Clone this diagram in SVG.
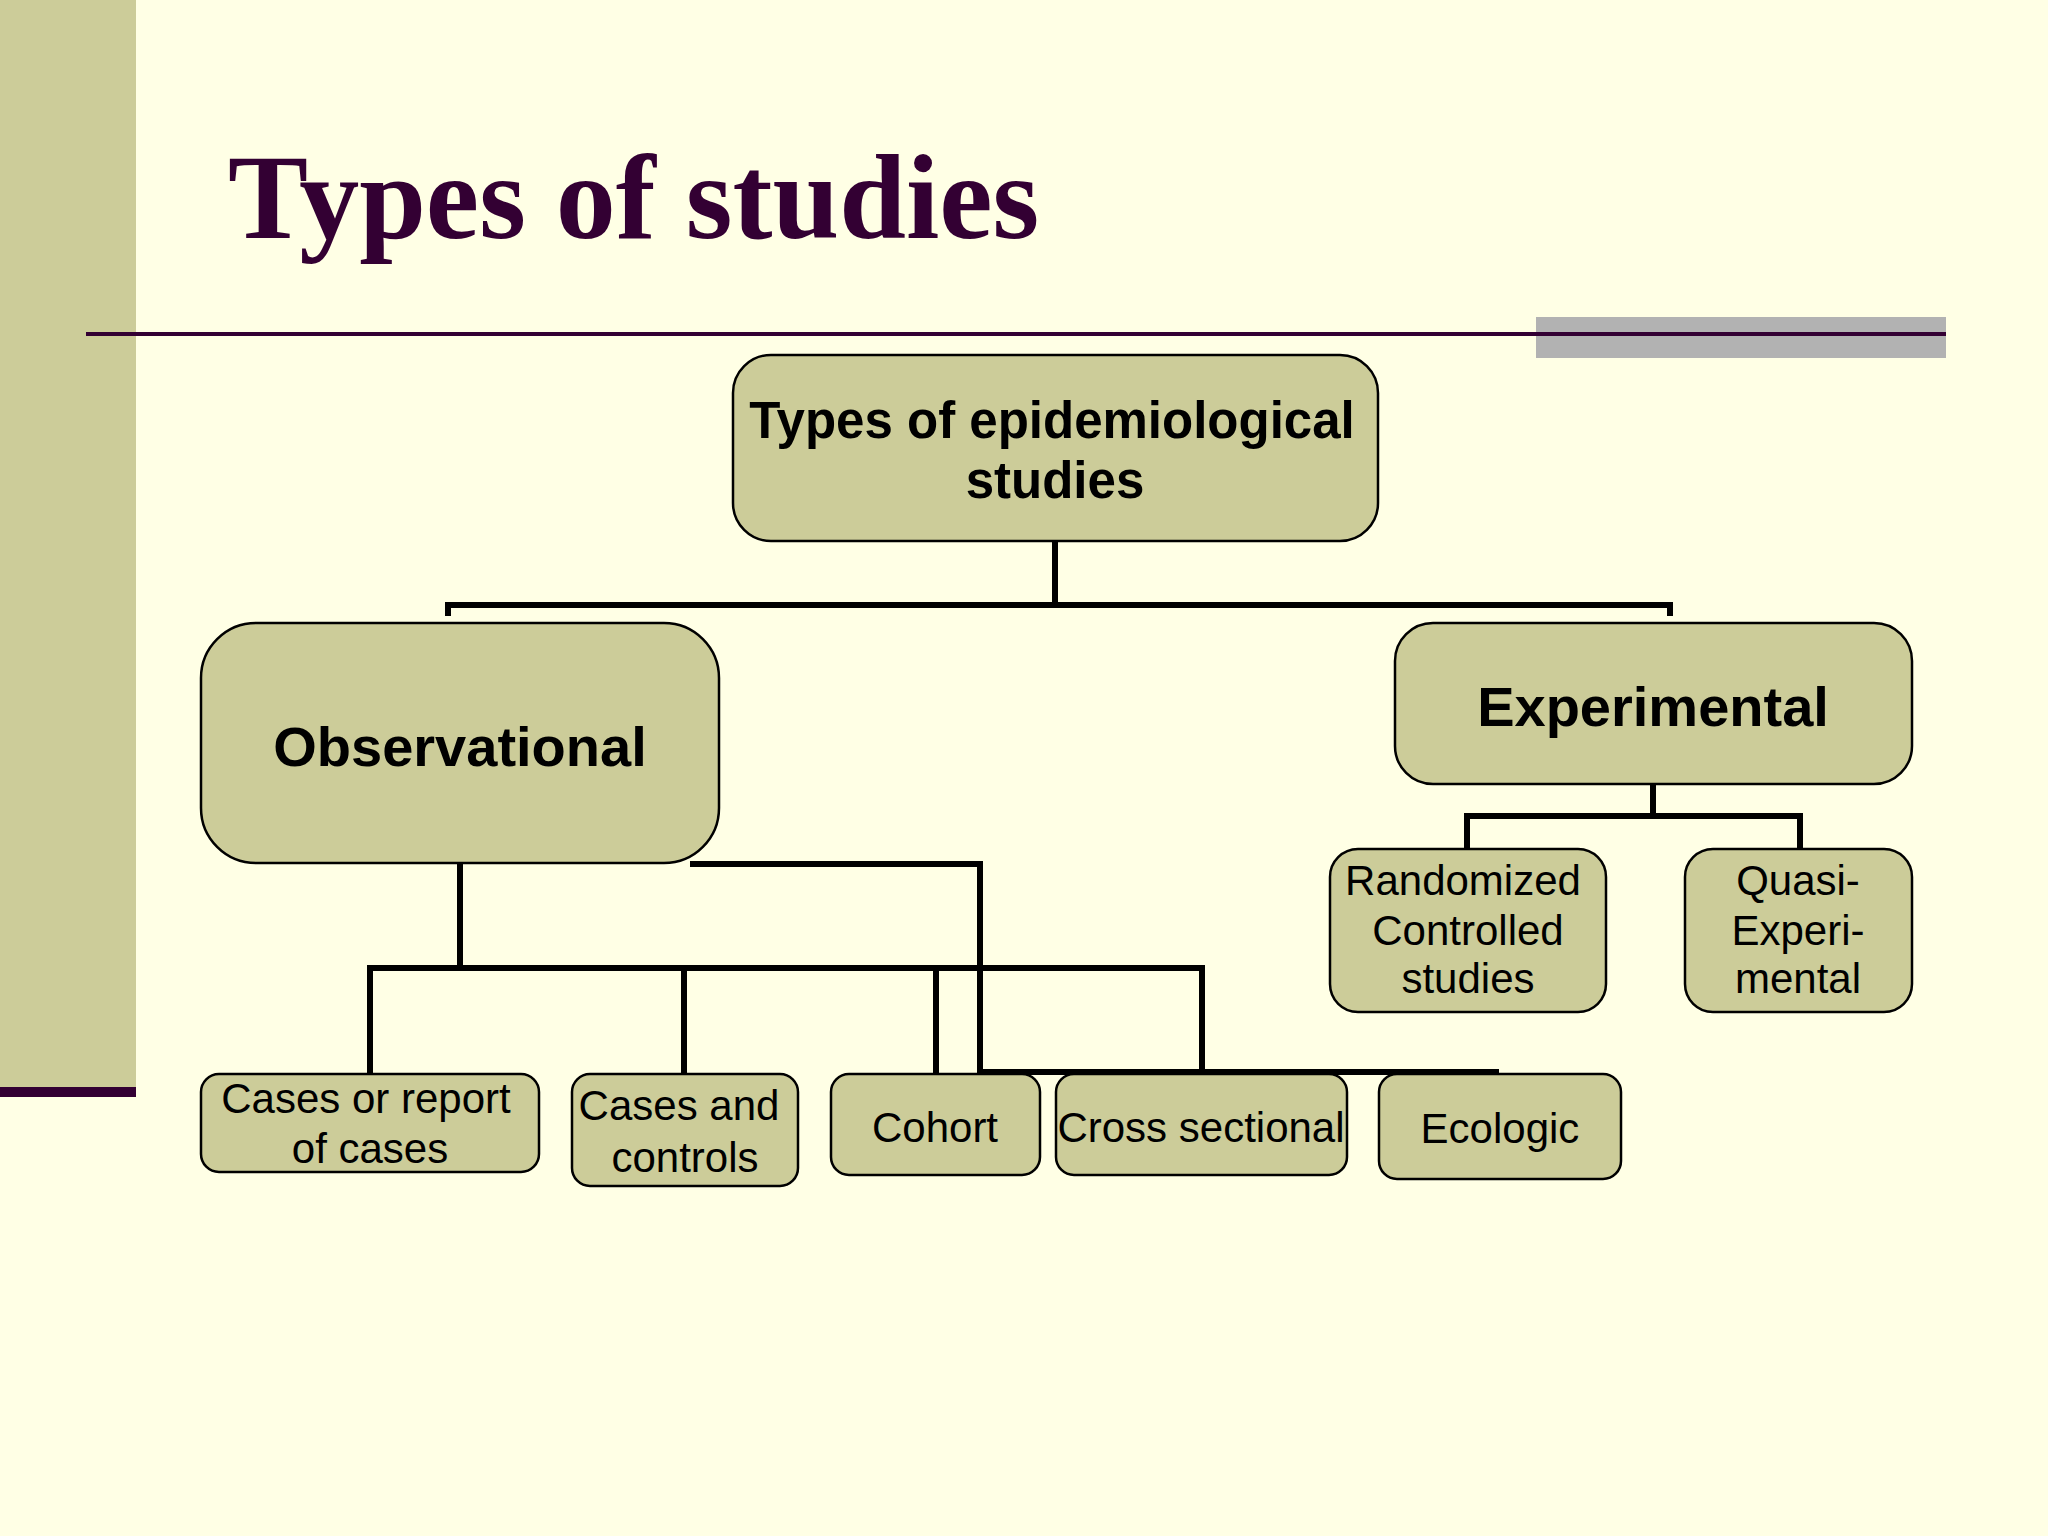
<svg xmlns="http://www.w3.org/2000/svg" width="2048" height="1536" viewBox="0 0 2048 1536">
<style>
.node rect{fill:#CCCC99;stroke:#000;stroke-width:2.5}
.bold{font-family:"Liberation Sans",Arial,sans-serif;font-weight:bold;fill:#000;text-anchor:middle}
.reg{font-family:"Liberation Sans",Arial,sans-serif;font-size:42px;fill:#000;text-anchor:middle}
.conn{fill:none;stroke:#000;stroke-width:6;stroke-linejoin:miter;stroke-linecap:butt}
</style>
<rect x="0" y="0" width="2048" height="1536" fill="#FFFFE5"/>
<rect x="0" y="0" width="136" height="1087" fill="#CCCC99"/>
<rect x="0" y="1087" width="136" height="10" fill="#330033"/>
<rect x="1536" y="317" width="410" height="41" fill="#B2B2B2"/>
<rect x="86" y="332" width="1860" height="4" fill="#330033"/>
<text x="228" y="238" font-family="'Liberation Serif','Times New Roman',serif" font-weight="bold" font-size="120" fill="#330033">Types of studies</text>

<g id="connectors" class="conn">
<path d="M1055,541 V605 M448,616 V605 H1670 V616"/>
<path d="M1653,784 V816 M1467,849 V816 H1800 V849"/>
<path d="M460,863 V968 M370,1074 V968 H1202 V1074 M684,968 V1074 M936,968 V1074"/>
<path d="M690,864 H980 V1072 H1499"/>
</g>

<g id="node-root" class="node">
<rect x="733" y="355" width="645" height="186" rx="38"/>
<text class="bold" font-size="51" x="1052" y="438">Types of epidemiological</text>
<text class="bold" font-size="51" x="1055" y="498">studies</text>
</g>
<g id="node-observational" class="node">
<rect x="201" y="623" width="518" height="240" rx="55"/>
<text class="bold" font-size="56" x="460" y="766">Observational</text>
</g>
<g id="node-experimental" class="node">
<rect x="1395" y="623" width="517" height="161" rx="38"/>
<text class="bold" font-size="56" x="1653" y="726">Experimental</text>
</g>
<g id="node-rct" class="node">
<rect x="1330" y="849" width="276" height="163" rx="28"/>
<text class="reg" x="1463" y="895">Randomized</text>
<text class="reg" x="1468" y="945">Controlled</text>
<text class="reg" x="1468" y="993">studies</text>
</g>
<g id="node-quasi" class="node">
<rect x="1685" y="849" width="227" height="163" rx="28"/>
<text class="reg" x="1798" y="895">Quasi-</text>
<text class="reg" x="1798" y="945">Experi-</text>
<text class="reg" x="1798" y="993">mental</text>
</g>
<g id="node-cases-report" class="node">
<rect x="201" y="1074" width="338" height="98" rx="18"/>
<text class="reg" x="366" y="1113">Cases or report</text>
<text class="reg" x="370" y="1163">of cases</text>
</g>
<g id="node-cases-controls" class="node">
<rect x="572" y="1074" width="226" height="112" rx="18"/>
<text class="reg" x="679" y="1120">Cases and</text>
<text class="reg" x="685" y="1172">controls</text>
</g>
<g id="node-cohort" class="node">
<rect x="831" y="1074" width="209" height="101" rx="18"/>
<text class="reg" x="935" y="1142">Cohort</text>
</g>
<g id="node-cross" class="node">
<rect x="1056" y="1074" width="291" height="101" rx="18"/>
<text class="reg" x="1201" y="1142">Cross sectional</text>
</g>
<g id="node-ecologic" class="node">
<rect x="1379" y="1074" width="242" height="105" rx="18"/>
<text class="reg" x="1500" y="1143">Ecologic</text>
</g>
</svg>
